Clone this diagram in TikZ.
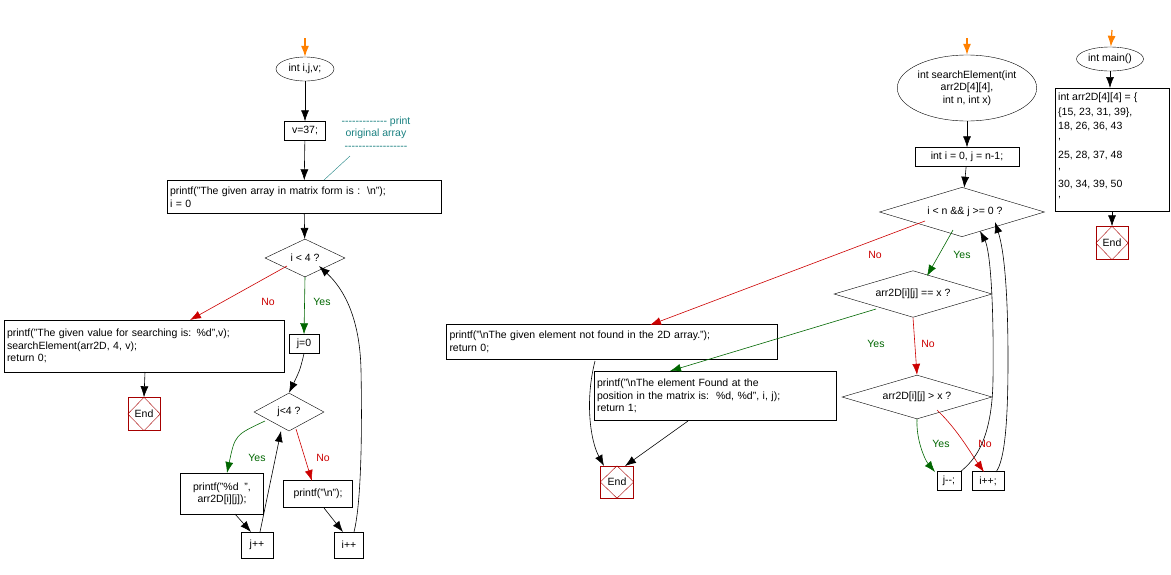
\documentclass[tikz,border=0pt]{standalone}
\usepackage{fontspec}
\setmainfont{Liberation Sans}
\usetikzlibrary{arrows.meta,shapes.geometric}
\begin{document}
\begin{tikzpicture}[x=1pt,y=-1pt,font=\fontsize{10.5}{12.5}\selectfont,
 ar/.style={-{Latex[length=11pt,width=8pt]},line width=0.6pt},
 box/.style={draw,rectangle,inner sep=2pt,minimum height=19pt},
 dia/.style={draw,diamond,aspect=2.2,inner sep=1pt},
 ell/.style={draw,ellipse,inner sep=1pt},
 endb/.style={draw=red!65!black,rectangle,minimum width=32pt,minimum height=33pt,inner sep=0pt},
 yes/.style={ar,draw=green!40!black,-{Latex[length=11pt,width=8pt,fill=green!40!black]}},
 no/.style={ar,draw=red!80!black,-{Latex[length=11pt,width=8pt,fill=red!80!black]}},
 lyes/.style={text=green!40!black},
 lno/.style={text=red!80!black},
 orng/.style={-{Latex[length=11pt,width=8pt]},draw=orange,fill=orange,line width=1.2pt}]
\useasboundingbox (0,0) rectangle (1171,574);
\newcommand{\dmk}[1]{\draw[red!65!black] (#1.north) -- (#1.east) -- (#1.south) -- (#1.west) -- cycle;}
\newcommand{\dsh}[1]{\foreach\k in {1,...,#1}{-}}
% ---- left
\coordinate (ls) at (305,38);
\node[ell,minimum width=58pt,minimum height=24pt] (a1) at (305,69) {int i,j,v;};
\node[box,minimum width=41pt] (a2) at (305,131) {v=37;};
\node[text=teal!80!gray,align=center] (cm) at (376,133) {\dsh{13} print\\original array\\\dsh{18}};
\coordinate (cmend) at (350,156);
\node[draw,rectangle,minimum width=274pt,minimum height=33pt,text width=268pt,align=left,inner sep=3pt] (a3) at (304,197) {printf("The given array in matrix form is :\ \ \textbackslash n");\\i = 0};
\node[dia,minimum width=80pt,minimum height=38pt] (d1) at (305,258) {i < 4 ?};
\node[draw,rectangle,minimum width=280pt,minimum height=52pt,text width=274pt,align=left,inner sep=3pt] (a4) at (144,346) {printf("The given value for searching is: \%d",v);\\searchElement(arr2D, 4, v);\\return 0;};
\node[endb] (e1) at (144,414) {End};\dmk{e1}
\node[box,minimum width=30pt] (a5) at (304,344) {j=0};
\node[dia,minimum width=70pt,minimum height=38pt] (d2) at (289,412) {j<4 ?};
\node[draw,rectangle,minimum width=83pt,minimum height=41pt,align=center,inner sep=2pt] (a6) at (222,494) {printf("\%d\ \ ",\\arr2D[i][j]);};
\node[box,minimum width=69pt,minimum height=27pt] (a7) at (318,494) {printf("\textbackslash n");};
\node[box,minimum width=32pt,minimum height=26pt] (a8) at (257,545) {j++};
\node[box,minimum width=29pt,minimum height=26pt] (a9) at (349,545) {i++};
\draw[orng] (ls) -- (a1);
\draw[ar] (a1) -- (a2);
\draw[ar] (a2) -- (a3);
\draw[teal!80!gray,line width=0.4pt] (cmend) -- (324,180);
\draw[ar] (a3) -- (d1);
\draw[no] (287,266) -- (190,320);
\node[lno] at (268,302) {No};
\draw[yes] (d1.south) -- (a5.north);
\node[lyes] at (322,302) {Yes};
\draw[ar] (145,372) -- (e1.north);
\draw[ar] (a5.south) .. controls (300,370) .. (d2.north);
\draw[yes] (265,421) .. controls (235,435) .. (227,473);
\node[lyes] at (257,458) {Yes};
\draw[no] (296,429) -- (312,481);
\node[lno] at (323,458) {No};
\draw[ar] (235,514) -- (251,532);
\draw[ar] (324,508) -- (343,532);
\draw[ar] (260,532) -- (281,431);
\draw[ar] (354,532) .. controls (362,500) and (362,420) .. (361,370) .. controls (360,320) and (345,290) .. (319,266);
% ---- right
\coordinate (rs) at (967,38);
\node[ell,minimum width=108pt,minimum height=66pt,align=center,inner sep=0pt] (b1) at (967,88) {int searchElement(int\\arr2D[4][4],\\int n, int x)};
\node[box,minimum width=104pt] (b2) at (967,157) {int i = 0, j = n-1;};
\node[dia,minimum width=165pt,minimum height=39pt] (c1) at (962,212) {\ \ i < n \&\& j >= 0 ?};
\node[dia,minimum width=158pt,minimum height=40pt] (c2) at (913,294) {arr2D[i][j] == x ?};
\node[dia,minimum width=150pt,minimum height=42pt] (c3) at (917,397) {arr2D[i][j] > x ?};
\node[draw,rectangle,minimum width=331pt,minimum height=35pt,text width=325pt,align=left,inner sep=3pt] (b3) at (612,342) {printf("\textbackslash nThe given element not found in the 2D array.");\\return 0;};
\node[draw,rectangle,minimum width=242pt,minimum height=49pt,text width=236pt,align=left,inner sep=3pt] (b4) at (715,396) {printf("\textbackslash nThe element Found at the\\position in the matrix is:\ \ \%d, \%d", i, j);\\return 1;};
\node[endb,minimum width=33pt,minimum height=32pt] (e2) at (617,482) {End};\dmk{e2}
\node[box,minimum width=24pt] (b5) at (949,481) {j{-}{-};};
\node[box,minimum width=32pt] (b6) at (988,481) {i++;};
\draw[orng] (rs) -- (b1);
\draw[ar] (b1) -- (b2);
\draw[ar] (b2) -- (c1);
\draw[no] (925,221) -- (650,325);
\node[lno] at (875,255) {No};
\draw[yes] (953,230) -- (927,276);
\node[lyes] at (962,255) {Yes};
\draw[yes] (876,309) -- (670,371);
\node[lyes] at (876,344) {Yes};
\draw[no] (c2.south) -- (c3.north);
\node[lno] at (928,344) {No};
\draw[ar] (595,361) .. controls (585,400) and (590,440) .. (604,466);
\draw[ar] (688,421) -- (625,466);
\draw[yes] (c3.south) .. controls (916,440) and (925,460) .. (935,472);
\node[lyes] at (941,444) {Yes};
\draw[no] (937,410) .. controls (958,430) and (972,455) .. (984,472);
\node[lno] at (985,444) {No};
\draw[ar] (960,472) .. controls (975,460) and (992,440) .. (993,380) .. controls (994,300) and (990,250) .. (980,231);
\draw[ar] (996,472) .. controls (1005,460) and (1008,420) .. (1008,360) .. controls (1008,290) and (1004,250) .. (995,222);
% ---- main
\coordinate (ms) at (1112,30);
\node[ell,minimum width=67pt,minimum height=24pt] (m1) at (1110,59) {int main()};
\node[draw,rectangle,anchor=north west,minimum width=114pt,minimum height=123pt,inner sep=0pt] (m2) at (1055,88) {};
\foreach \t/\yy in {{int arr2D[4][4] = \{}/98,{\{15, 23, 31, 39\},}/113,{18, 26, 36, 43}/127,{,}/140,{25, 28, 37, 48}/156,{,}/170,{30, 34, 39, 50}/185,{,}/198}
  \node[anchor=west,inner sep=0pt] at (1058,\yy) {\t};
\node[endb,minimum width=32pt,minimum height=33pt] (e3) at (1112,243) {End};\dmk{e3}
\draw[orng] (ms) -- (m1);
\draw[ar] (m1) -- (m2.north -| m1);
\draw[ar] (m2.south -| e3) -- (e3);
\end{tikzpicture}
\end{document}
